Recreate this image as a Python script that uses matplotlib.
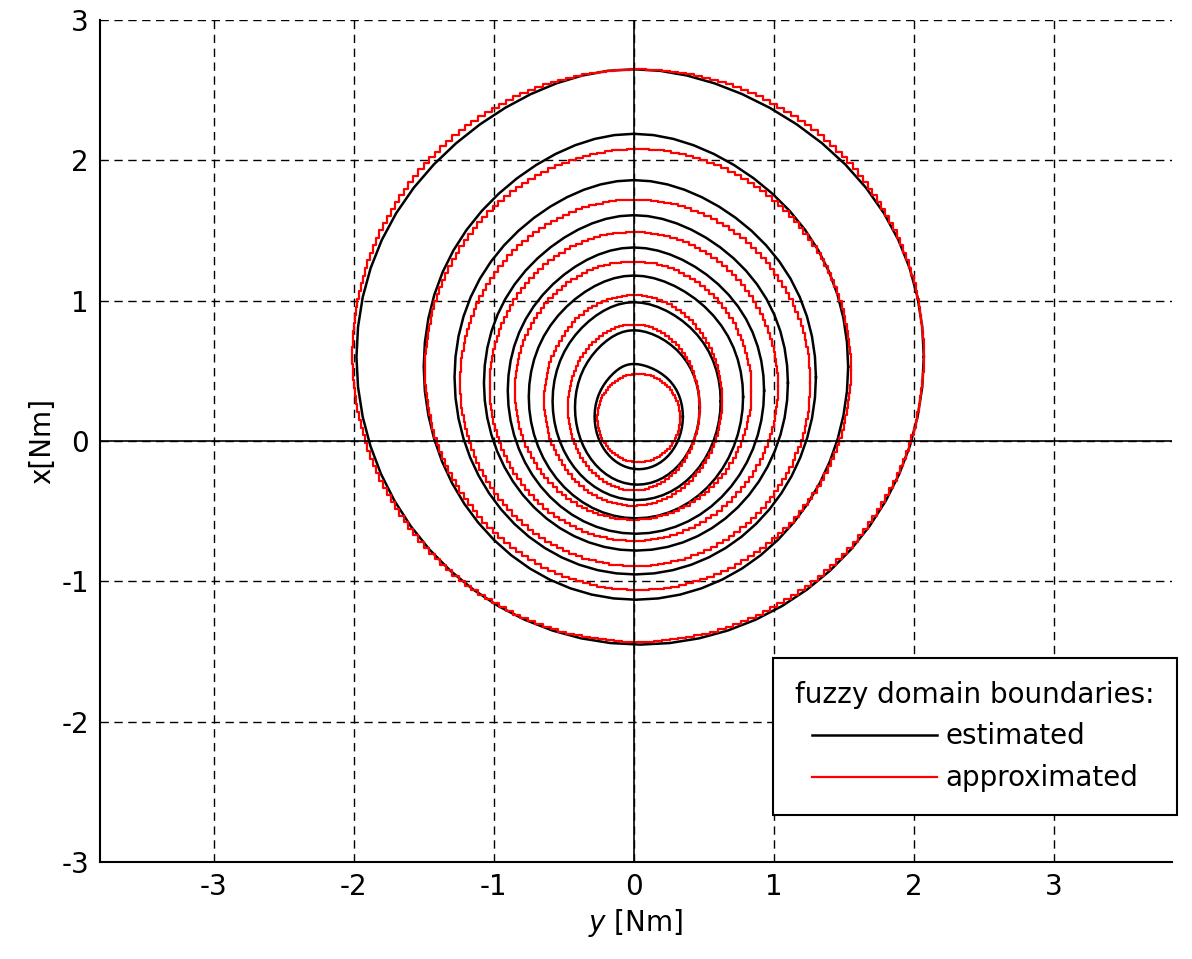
import numpy as np
import matplotlib
matplotlib.use("Agg")
import matplotlib.pyplot as plt

plt.rcParams['axes.unicode_minus'] = False

# Red (approximated) boundaries: top, bottom, left, right extents
red_top = [2.65, 2.08, 1.72, 1.49, 1.28, 1.04, 0.83, 0.48]
red_bot = [-1.43, -1.06, -0.89, -0.71, -0.56, -0.46, -0.35, -0.15]
red_left = [-2.01, -1.49, -1.24, -1.03, -0.85, -0.64, -0.47, -0.26]
red_right = [2.07, 1.55, 1.26, 1.03, 0.84, 0.63, 0.47, 0.33]

# Black (estimated) boundaries
blk_top = [2.65, 2.19, 1.86, 1.61, 1.38, 1.18, 0.99, 0.79, 0.55]
blk_bot = [-1.45, -1.13, -0.95, -0.78, -0.66, -0.55, -0.42, -0.31, -0.20]
blk_left = [-1.98, -1.50, -1.28, -1.07, -0.90, -0.75, -0.58, -0.42, -0.28]
blk_right = [2.07, 1.53, 1.30, 1.10, 0.93, 0.78, 0.62, 0.47, 0.35]

fig = plt.figure(figsize=(11.92, 9.59), dpi=100)
ax = fig.add_axes([0.084, 0.101, 0.899, 0.878])

t = np.linspace(0, 2*np.pi, 61)
for i, (tp, bt, lf, rt) in enumerate(zip(blk_top, blk_bot, blk_left, blk_right)):
    cx, cy = (lf+rt)/2, (tp+bt)/2
    rx = (rt-lf)/2
    s = np.sin(t); c = np.cos(t)
    up = np.clip(s, 0, None)
    xs = cx + rx*c*(1 - 0.12*up**4)
    ys = np.where(s >= 0, cy + (tp-cy)*s, cy + (cy-bt)*s)
    xs = xs - cx*up**6
    ax.plot(xs, ys, color='black', lw=1.8, label='estimated' if i == 0 else None)

for i, (tp, bt, lf, rt) in enumerate(zip(red_top, red_bot, red_left, red_right)):
    cx, cy = (lf+rt)/2, (tp+bt)/2
    rx, ry = (rt-lf)/2, (tp-bt)/2
    n = int(60 + 80*rx)
    tt = np.linspace(0, 2*np.pi, n)
    ax.plot(cx + rx*np.cos(tt), cy + ry*np.sin(tt), color='red', lw=1.6,
            drawstyle='steps-mid', label='approximated' if i == 0 else None)

ax.axhline(0, color='black', lw=1.2)
ax.axvline(0, color='black', lw=1.2)
ax.set_xlim(-3.81, 3.84)
ax.set_ylim(-3, 3)
ax.set_xticks([-3, -2, -1, 0, 1, 2, 3])
ax.set_yticks([-3, -2, -1, 0, 1, 2, 3])
ax.grid(True, color='black', linestyle=(0, (6, 4)), lw=1.0)
ax.tick_params(length=0, labelsize=20, pad=8)
for sp in ['top', 'right']:
    ax.spines[sp].set_visible(False)
for sp in ['left', 'bottom']:
    ax.spines[sp].set_linewidth(1.5)
ax.set_xlabel('$y$ [Nm]', fontsize=20)
ax.set_ylabel('x[Nm]', fontsize=20)

leg = ax.legend(title='fuzzy domain boundaries:', loc='lower right',
                bbox_to_anchor=(1.018, 0.04), fontsize=20, title_fontsize=20,
                fancybox=False, edgecolor='black', framealpha=1,
                handlelength=4.5, handletextpad=0.3, borderpad=0.8)
leg.get_frame().set_linewidth(1.5)
fig.savefig('out.png', dpi=100)
